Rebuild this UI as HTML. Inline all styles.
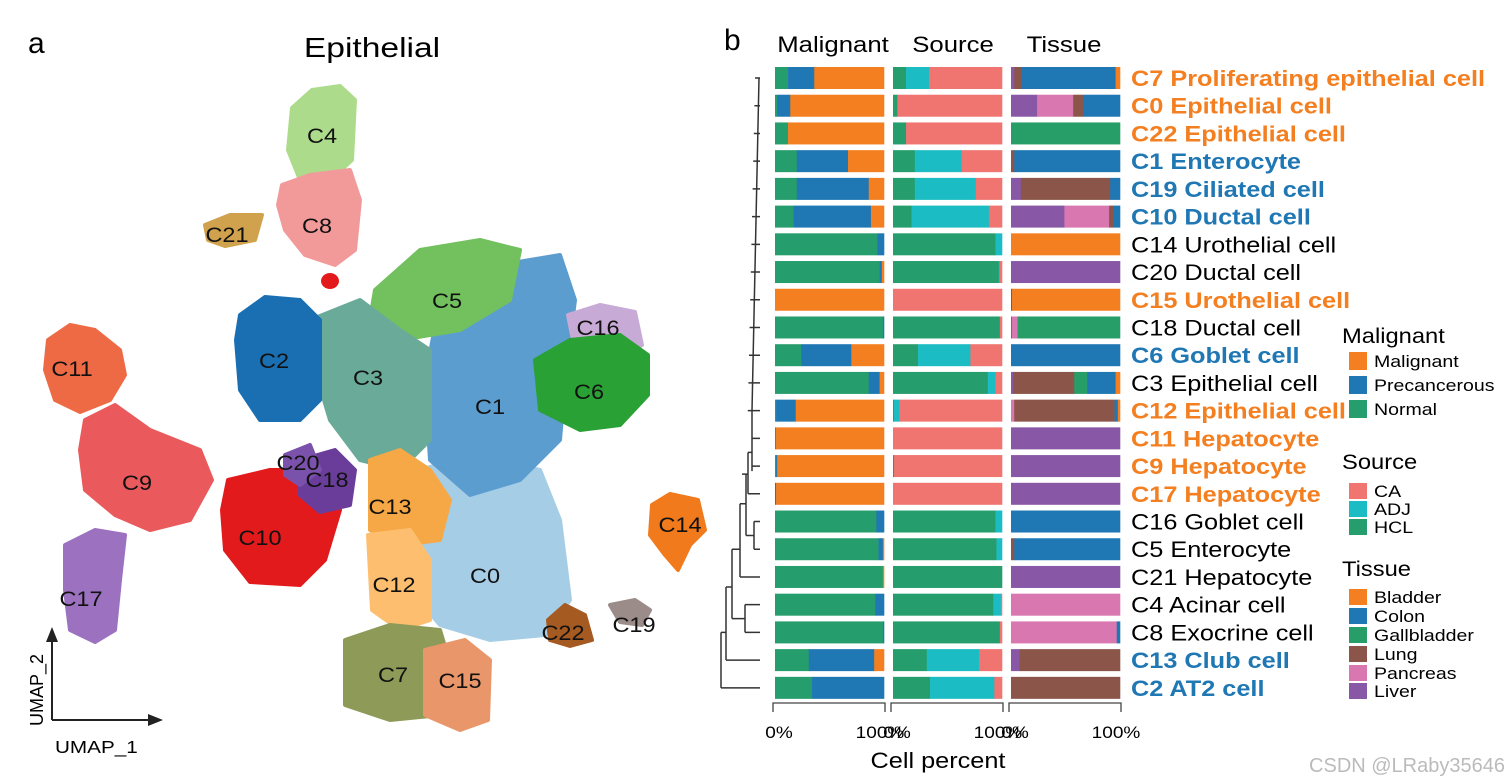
<!DOCTYPE html>
<html><head><meta charset="utf-8">
<style>
html,body{margin:0;padding:0;background:#fff;}
svg{display:block;font-family:"Liberation Sans",Arial,sans-serif;}
</style></head>
<body>
<svg id="fig" width="1511" height="783" viewBox="0 0 1511 783">
  <text x="28" y="53" font-size="30">a</text>
  <text transform="translate(372,57) scale(1.2,1)" font-size="28" text-anchor="middle">Epithelial</text>
  <g id="umap"></g>
  <g stroke="#222" stroke-width="2" fill="#222">
    <line x1="52" y1="720" x2="52" y2="640"/>
    <polygon points="46,642 58,642 52,627" stroke="none"/>
    <line x1="52" y1="720" x2="150" y2="720"/>
    <polygon points="148,714 148,726 163,720" stroke="none"/>
  </g>
  <text x="43" y="726" font-size="18" transform="rotate(-90 43 726)">UMAP_2</text>
  <text transform="translate(55,753) scale(1.15,1)" font-size="18">UMAP_1</text>

  <text x="724" y="50" font-size="30">b</text>
  <text transform="translate(833,52) scale(1.17,1)" font-size="22" text-anchor="middle">Malignant</text>
  <text transform="translate(953,52) scale(1.17,1)" font-size="22" text-anchor="middle">Source</text>
  <text transform="translate(1064,52) scale(1.17,1)" font-size="22" text-anchor="middle">Tissue</text>
  <g id="dendro" fill="none" stroke="#333" stroke-width="1.5"></g>
  <g id="bars"></g>
  <g id="labels"></g>
  <g id="axis"></g>
  <text transform="translate(938,768) scale(1.15,1)" font-size="22" text-anchor="middle">Cell percent</text>
  <g id="legend"></g>
  <text x="1505" y="772" font-size="20" fill="#bbb" text-anchor="end">CSDN @LRaby35646</text>
</svg>
<script>
var NS="http://www.w3.org/2000/svg";
var clusters=["C7 Proliferating epithelial cell","C0 Epithelial cell","C22 Epithelial cell","C1 Enterocyte","C19 Ciliated cell","C10 Ductal cell","C14 Urothelial cell","C20 Ductal cell","C15 Urothelial cell","C18 Ductal cell","C6 Goblet cell","C3 Epithelial cell","C12 Epithelial cell","C11 Hepatocyte","C9 Hepatocyte","C17 Hepatocyte","C16 Goblet cell","C5 Enterocyte","C21 Hepatocyte","C4 Acinar cell","C8 Exocrine cell","C13 Club cell","C2 AT2 cell"];
var labelType=["o","o","o","b","b","b","k","k","o","k","b","k","o","o","o","o","k","k","k","k","k","b","b"];
// Malignant panel: Normal, Precancerous, Malignant
var malNormal=[.12,.02,.12,.2,.2,.17,.94,.96,0,.99,.24,.86,.01,.01,.01,0,.93,.95,.99,.92,.99,.31,.34];
var malPre=[.24,.12,0,.47,.66,.71,.06,.02,0,.01,.46,.1,.18,0,.01,.01,.07,.04,0,.08,.01,.6,.66];
var malMal=[.64,.86,.88,.33,.14,.12,0,.02,1,0,.3,.04,.81,.99,.98,.99,0,.01,.01,0,0,.09,0];
// Source panel: HCL, ADJ, CA
var srcHCL=[.12,.04,.12,.2,.2,.17,.94,.97,0,.98,.23,.87,.01,0,.01,0,.94,.95,1,.92,.98,.31,.34];
var srcADJ=[.21,0,0,.43,.56,.71,.06,.01,0,0,.48,.07,.05,0,0,0,.06,.05,0,.07,0,.48,.59];
var srcCA=[.67,.96,.88,.37,.24,.12,0,.02,1,.02,.29,.06,.94,1,.99,1,0,0,0,.01,.02,.21,.07];
// Tissue panel: Liver, Pancreas, Lung, Gallbladder, Colon, Bladder
var tisLiver=[.03,.24,0,0,.09,.49,0,1,0,.01,0,.02,0,1,1,1,0,0,1,0,0,.08,0];
var tisPancreas=[0,.33,0,0,0,.41,0,0,0,.05,0,0,.03,0,0,0,0,0,0,1,.97,0,0];
var tisLung=[.07,.09,0,.03,.82,.04,0,0,.01,0,0,.56,.92,0,0,0,0,.03,0,0,0,.92,1];
var tisGall=[0,0,1,0,0,0,0,0,0,.94,0,.12,0,0,0,0,0,0,0,0,0,0,0];
var tisColon=[.86,.34,0,.97,.09,.06,0,0,0,0,1,.26,.03,0,0,0,1,.97,0,0,.03,0,0];
var tisBladder=[.04,0,0,0,0,0,1,0,.99,0,0,.04,.02,0,0,0,0,0,0,0,0,0,0];
var tickLabels=["0%","100%"];

var C={normal:"#259d6c",pre:"#1f77b4",mal:"#f47f20",hcl:"#259d6c",adj:"#1cbcc4",ca:"#f07470",
 liver:"#8857a6",pancreas:"#d977b0",lung:"#8b5549",gall:"#279e68",colon:"#1f77b4",bladder:"#f47f20"};
var rowTop=67,pitch=27.72,barH=22,panelW=109;
function yRow(i){return rowTop+i*pitch;}
var panels=[
 {x0:775,name:"malignant",series:[[malNormal,C.normal,"normal"],[malPre,C.pre,"precancerous"],[malMal,C.mal,"malignant"]]},
 {x0:893,name:"source",series:[[srcHCL,C.hcl,"hcl"],[srcADJ,C.adj,"adj"],[srcCA,C.ca,"ca"]]},
 {x0:1011,name:"tissue",series:[[tisLiver,C.liver,"liver"],[tisPancreas,C.pancreas,"pancreas"],[tisLung,C.lung,"lung"],[tisGall,C.gall,"gallbladder"],[tisColon,C.colon,"colon"],[tisBladder,C.bladder,"bladder"]]}
];
function xScale(p,v){return p.x0+v*panelW;}
var bars=document.getElementById("bars");
panels.forEach(function(p){
 for(var i=0;i<clusters.length;i++){
  var tot=0;p.series.forEach(function(s){tot+=s[0][i];});
  var acc=0;
  p.series.forEach(function(s){
   var v=s[0][i]/tot; if(v<=0)return;
   var r=document.createElementNS(NS,"rect");
   r.setAttribute("x",xScale(p,acc));r.setAttribute("y",yRow(i));
   r.setAttribute("width",xScale(p,acc+v)-xScale(p,acc)+0.3);r.setAttribute("height",barH);
   r.setAttribute("fill",s[1]);
   
   
   bars.appendChild(r);acc+=v;
  });
 }
 var ax=document.getElementById("axis");
 var pth=document.createElementNS(NS,"path");
 pth.setAttribute("d","M"+(xScale(p,0)-2)+",712 V703 H"+(xScale(p,1)+1)+" V712");
 pth.setAttribute("fill","none");pth.setAttribute("stroke","#444");pth.setAttribute("stroke-width","1.3");
 
 
 ax.appendChild(pth);
 [0,1].forEach(function(k){
  var t=document.createElementNS(NS,"text");
  var tx=k==0?xScale(p,0)+4:xScale(p,1)-4;
  t.setAttribute("transform","translate("+tx+",738) scale(1.12,1)");
  t.setAttribute("font-size","17");t.setAttribute("text-anchor","middle");
  t.textContent=tickLabels[k];
  
  
  ax.appendChild(t);
 });
});
var lab=document.getElementById("labels");
clusters.forEach(function(c,i){
 var t=document.createElementNS(NS,"text");
 t.setAttribute("transform","translate(1131,"+(yRow(i)+barH/2+8)+") scale(1.15,1)");
 t.setAttribute("font-size","22");
 var ty=labelType[i];
 if(ty!="k"){t.setAttribute("font-weight","bold");t.setAttribute("fill",ty=="o"?"#f47f20":"#1f77b4");}
 t.textContent=c;
 
 
 lab.appendChild(t);
});
(function(){
 var d=document.getElementById("dendro"),s="";
 function yc(i){return yRow(i)+barH/2;}
 for(var i=0;i<13;i++){var sx=760-i*0.6;s+="M760,"+yc(i)+" H"+(sx-5);}
 s+="M759,"+yc(0)+" L752,"+yc(12);
 s+="M760,"+yc(13)+" H752 M760,"+yc(14)+" H752 M752,"+yc(13)+" V"+yc(14)+" M752,"+(yc(13)+14)+" H748 M760,"+yc(15)+" H748 M748,"+(yc(13)+14)+" V"+yc(15);
 s+="M752,"+yc(12)+" V"+(yc(14)+5)+" M748,"+(yc(14)+8)+" H742";
 s+="M760,"+yc(16)+" H754 M760,"+yc(17)+" H754 M754,"+yc(16)+" V"+yc(17)+" M754,"+(yc(16)+14)+" H746 M746,"+(yc(14)+8)+" V"+(yc(16)+14);
 s+="M746,"+(yc(15)+10)+" H740 M760,"+yc(18)+" H740 M740,"+(yc(15)+10)+" V"+yc(18);
 s+="M760,"+yc(19)+" H745 M760,"+yc(20)+" H745 M745,"+yc(19)+" V"+yc(20);
 s+="M740,"+(yc(17))+" H732 M745,"+(yc(19)+14)+" H732 M732,"+yc(17)+" V"+(yc(19)+14);
 s+="M732,"+(yc(18)+10)+" H726 M760,"+yc(21)+" H726 M726,"+(yc(18)+10)+" V"+yc(21);
 s+="M726,"+(yc(20))+" H721 M760,"+yc(22)+" H721 M721,"+yc(20)+" V"+yc(22);
 var p=document.createElementNS(NS,"path");p.setAttribute("d",s);
 
 
 d.appendChild(p);
})();
(function(){
 var g=document.getElementById("legend");
 function title(txt,y){var t=document.createElementNS(NS,"text");t.setAttribute("transform","translate(1342,"+y+") scale(1.13,1)");t.setAttribute("font-size","21");t.textContent=txt;
  
  
  g.appendChild(t);}
 function entry(txt,col,y,h){var r=document.createElementNS(NS,"rect");r.setAttribute("x",1349);r.setAttribute("y",y-h/2);r.setAttribute("width",18);r.setAttribute("height",h);r.setAttribute("fill",col);
  
  
  g.appendChild(r);
  var t=document.createElementNS(NS,"text");t.setAttribute("transform","translate(1374,"+(y+6)+") scale(1.15,1)");t.setAttribute("font-size","17");t.textContent=txt;
  
  
  g.appendChild(t);}
 title("Malignant",343);
 entry("Malignant",C.mal,361,18);entry("Precancerous",C.pre,385,18);entry("Normal",C.normal,409,18);
 title("Source",469);
 entry("CA",C.ca,491,16);entry("ADJ",C.adj,509,16);entry("HCL",C.hcl,527,16);
 title("Tissue",576);
 entry("Bladder",C.bladder,597,16);entry("Colon",C.colon,616,16);entry("Gallbladder",C.gall,635,16);
 entry("Lung",C.lung,654,16);entry("Pancreas",C.pancreas,673,16);entry("Liver",C.liver,691,16);
})();
var umapNames=["C0","C1","C5","C3","C2","C16","C6","C13","C12","C7","C15","C10","C18","C20","C4","C8","C21","C11","C9","C17","C14","C22","C19"];
var umapColors=["#a6cde6","#5c9dd0","#72c05e","#6aaa98","#1a6fb3","#c7aad6","#2aa135","#f5a845","#fdbf6f","#8d9a58","#e9976a","#e31a1c","#6a3d9a","#7b52ab","#addb8c","#f29a9a","#d0a24e","#ee6a45","#ea5a5c","#9c72c0","#f07a1c","#a55a22","#9b8c8a"];
var umapShapes=[
 "M420,470 L470,455 L540,470 L560,520 L570,600 L545,635 L490,640 L440,625 L410,590 L405,520 Z",
 "M440,300 L500,265 L560,255 L575,300 L565,380 L560,440 L520,480 L470,495 L430,460 L425,380 Z",
 "M375,290 L420,250 L480,240 L520,250 L510,300 L460,330 L400,340 L370,320 Z",
 "M310,320 L360,300 L400,330 L430,350 L430,440 L400,470 L360,460 L330,420 L315,370 Z",
 "M240,315 L265,297 L300,300 L320,320 L320,400 L300,420 L260,420 L240,390 L236,340 Z",
 "M568,315 L600,305 L635,312 L642,345 L610,360 L575,350 Z",
 "M535,360 L570,340 L620,335 L648,355 L648,395 L620,425 L580,430 L540,410 Z",
 "M370,460 L400,450 L430,470 L450,500 L440,540 L400,545 L370,530 Z",
 "M368,535 L410,530 L430,560 L430,620 L400,630 L372,610 Z",
 "M345,640 L390,625 L440,630 L455,680 L440,715 L390,720 L345,705 Z",
 "M425,650 L465,640 L490,660 L488,720 L460,730 L425,715 Z",
 "M228,480 L270,470 L320,470 L340,510 L325,560 L300,585 L250,582 L225,550 L222,510 Z",
 "M300,460 L335,450 L355,470 L350,505 L320,512 L300,495 Z",
 "M285,455 L310,445 L320,470 L300,485 L285,475 Z",
 "M292,108 L312,90 L340,86 L355,100 L352,160 L330,180 L300,180 L288,150 Z",
 "M282,185 L310,175 L350,170 L360,200 L355,250 L335,265 L305,255 L285,230 L278,205 Z",
 "M205,225 L230,215 L262,215 L255,240 L225,246 L208,240 Z",
 "M48,340 L70,325 L95,330 L120,350 L125,375 L110,400 L80,412 L55,400 L45,370 Z",
 "M85,420 L115,405 L150,430 L200,450 L212,480 L190,520 L150,530 L115,515 L85,490 L80,450 Z",
 "M65,545 L95,530 L125,535 L120,580 L115,630 L95,642 L70,630 L65,590 Z",
 "M652,505 L670,494 L698,500 L705,530 L690,545 L678,570 L665,555 L650,535 Z",
 "M548,620 L565,605 L585,615 L592,640 L570,646 L550,640 Z",
 "M610,605 L635,600 L650,610 L642,625 L620,622 Z"
];
var umapLabels=[["C0",485,583],["C1",490,414],["C5",447,308],["C3",368,385],["C2",274,368],["C16",598,335],["C6",589,399],["C13",390,514],["C12",394,592],["C7",393,682],["C15",460,688],["C10",260,545],["C18",327,487],["C20",298,470],["C4",322,143],["C8",317,233],["C21",227,242],["C11",72,376],["C9",137,490],["C17",81,606],["C14",680,532],["C22",563,640],["C19",634,632]];
(function(){
 var g=document.getElementById("umap");
 umapShapes.forEach(function(d,i){
  var p=document.createElementNS(NS,"path");p.setAttribute("d",d);p.setAttribute("fill",umapColors[i]);
  p.setAttribute("stroke",umapColors[i]);p.setAttribute("stroke-width","4");p.setAttribute("stroke-linejoin","round");
  
  
  g.appendChild(p);
 });
 var red=document.createElementNS(NS,"ellipse");red.setAttribute("cx",330);red.setAttribute("cy",281);red.setAttribute("rx",9);red.setAttribute("ry",8);red.setAttribute("fill","#e31a1c");
 
 
 g.appendChild(red);
 umapLabels.forEach(function(l){
  var t=document.createElementNS(NS,"text");
  t.setAttribute("transform","translate("+l[1]+","+l[2]+") scale(1.12,1)");
  t.setAttribute("font-size","21");t.setAttribute("text-anchor","middle");t.setAttribute("fill","#111");
  t.textContent=l[0];
  
  
  g.appendChild(t);
 });
})();
</script>
</body></html>
